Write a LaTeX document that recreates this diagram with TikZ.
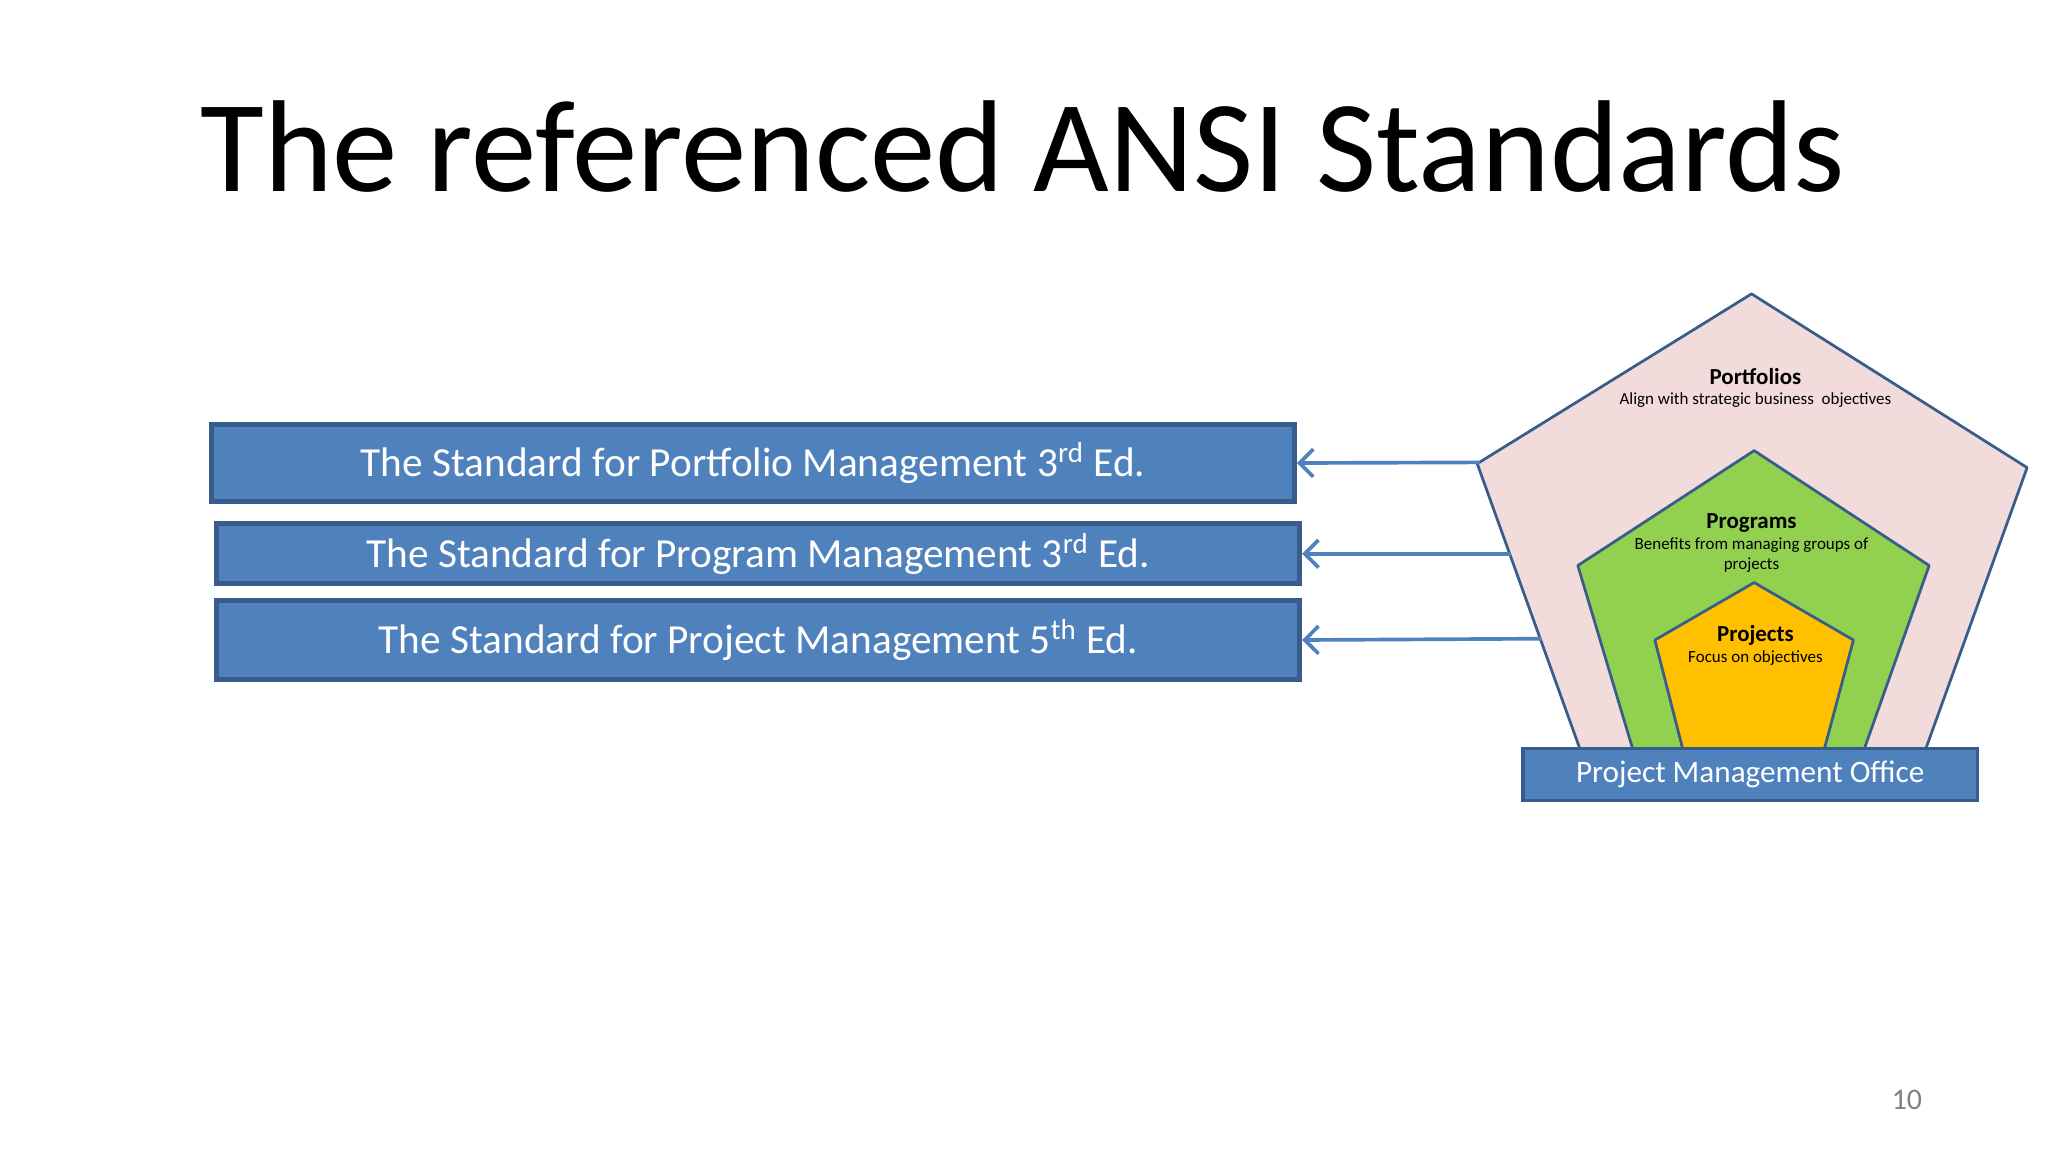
\documentclass[tikz,border=0pt]{standalone}
\usepackage{fontspec}
\setmainfont{Carlito}
\usetikzlibrary{arrows.meta}
\definecolor{stdblue}{HTML}{4F81BD}
\definecolor{stdedge}{HTML}{385D8A}
\definecolor{pinkfill}{HTML}{F2DCDB}
\definecolor{greenfill}{HTML}{92D050}
\definecolor{orangefill}{HTML}{FFC000}
\begin{document}
\begin{tikzpicture}
                [x=0.02cm, y=-0.02cm,
                stdbox/.style={draw=stdedge, line width=2.2pt, fill=stdblue, text=white, font=\fontsize{18}{20}\selectfont, inner sep=0pt},
                pent/.style={draw=stdedge, line width=1.2pt, line join=round},
                small/.style={font=\fontsize{7.4}{9}\selectfont, align=center},
                arrow/.style={draw=stdblue, line width=1.6pt, -{Straight Barb[length=6pt, width=12pt]}},]

                \useasboundingbox (0,0) rectangle (1568,882);

                \node (title) at (783,112) {\fontsize{57}{60}\selectfont The referenced ANSI Standards};

                \node[stdbox, minimum width=829*0.02cm, minimum height=59*0.02cm] (s1) at (576.5,354.5) {The Standard for Portfolio Management 3\textsuperscript{rd} Ed.};
                \node[stdbox, minimum width=829*0.02cm, minimum height=46*0.02cm] (s2) at (580.5,424) {The Standard for Program Management 3\textsuperscript{rd} Ed.};
                \node[stdbox, minimum width=829*0.02cm, minimum height=60*0.02cm] (s3) at (580.5,490) {The Standard for Project Management 5\textsuperscript{th} Ed.};

                % pentagons
                \draw[pent, fill=pinkfill] (1341,225) -- (1552,358) -- (1472,580) -- (1212,580) -- (1131,355) -- cycle;
                \draw[pent, fill=greenfill] (1343,345) -- (1477,433) -- (1425,580) -- (1252,580) -- (1208,433) -- cycle;
                \draw[pent, fill=orangefill] (1343,446) -- (1419,490) -- (1395,580) -- (1290,580) -- (1267,490) -- cycle;

                \node[small] (portfolios) at (1344,297) {{\fontsize{10}{12}\selectfont\bfseries Portfolios}\\Align with strategic business\ \ objectives};
                \node[small] (programs) at (1341,416) {{\fontsize{10}{12}\selectfont\bfseries Programs}\\Benefits from managing groups of\\projects};
                \node[small] (projects) at (1344,494) {{\fontsize{10}{12}\selectfont\bfseries Projects}\\Focus on objectives};

                \node[draw=stdedge, line width=1.5pt, fill=stdblue, text=white, font=\fontsize{13.6}{15}\selectfont, minimum width=348*0.02cm, minimum height=40*0.02cm, inner sep=0pt] (pmo) at (1340,593) {Project Management Office};

                \coordinate (e1) at (1133,354);
                \coordinate (e2) at (1157,424);
                \coordinate (e3) at (1180,489);
                \draw[arrow] (e1) -- (s1.east);
                \draw[arrow] (e2) -- (s2.east);
                \draw[arrow] (e3) -- (s3.east);

                \node[text=gray, font=\fontsize{13}{15}\selectfont] (page) at (1460,842) {10};
            \end{tikzpicture}
\end{document}
